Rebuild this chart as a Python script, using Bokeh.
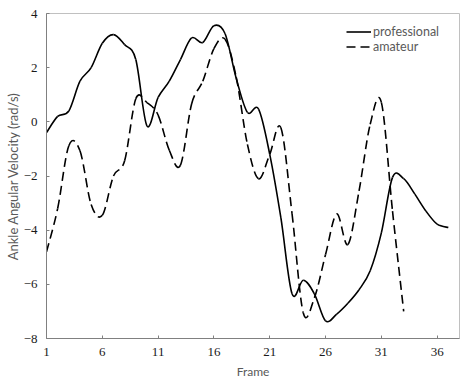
from bokeh.plotting import figure
from bokeh.models import FixedTicker, Legend, LegendItem
from bokeh.embed import file_html
from bokeh.resources import INLINE

# ---- data ----
frames_pro = list(range(1, 38))
professional = [-0.4, 0.2, 0.4, 1.5, 2.0, 2.9, 3.22, 2.85, 2.3, -0.15,
                0.9, 1.5, 2.3, 3.1, 2.93, 3.55, 3.25, 1.6, 0.35, 0.47,
                -1.2, -3.55, -6.35, -5.85, -6.35, -7.35, -7.1, -6.7, -6.2, -5.5,
                -4.1, -2.05, -2.1, -2.67, -3.3, -3.78, -3.9]
frames_am = list(range(1, 34))
amateur = [-4.8, -3.2, -0.88, -1.07, -3.05, -3.45, -2.0, -1.44, 0.85, 0.71,
           0.25, -1.05, -1.6, 0.66, 1.5, 2.7, 3.05, 1.64, -0.83, -2.1,
           -1.2, -0.22, -3.4, -7.05, -6.5, -4.9, -3.4, -4.53, -2.55, -0.09,
           0.72, -3.3, -7.0]
x_ticks = [1, 6, 11, 16, 21, 26, 31, 36]
y_ticks = [-8, -6, -4, -2, 0, 2, 4]


def smooth(xs, ys, t=1/6):
    """Bezier segments (Catmull-Rom style control points) through the points."""
    n = len(xs)
    d = dict(x0=[], y0=[], x1=[], y1=[], cx0=[], cy0=[], cx1=[], cy1=[])
    for i in range(n - 1):
        a = max(i - 1, 0)
        b = min(i + 2, n - 1)
        d["x0"].append(xs[i]); d["y0"].append(ys[i])
        d["x1"].append(xs[i + 1]); d["y1"].append(ys[i + 1])
        d["cx0"].append(xs[i] + (xs[i + 1] - xs[a]) * t)
        d["cy0"].append(ys[i] + (ys[i + 1] - ys[a]) * t)
        d["cx1"].append(xs[i + 1] - (xs[b] - xs[i]) * t)
        d["cy1"].append(ys[i + 1] - (ys[b] - ys[i]) * t)
    return d


p = figure(frame_width=413, frame_height=325, x_range=(1, 38), y_range=(-8, 4),
           output_backend="svg", toolbar_location=None,
           min_border_left=46, min_border_right=15, min_border_top=13,
           min_border_bottom=43)
p.grid.visible = False
p.outline_line_color = "#c0c0c0"
p.outline_line_width = 1
p.background_fill_color = "white"
p.border_fill_color = "white"

r_pro = p.bezier(source=smooth(frames_pro, professional), x0="x0", y0="y0",
                 x1="x1", y1="y1", cx0="cx0", cy0="cy0", cx1="cx1", cy1="cy1",
                 line_color="black", line_width=1.6)
r_am = p.bezier(source=smooth(frames_am, amateur), x0="x0", y0="y0",
                x1="x1", y1="y1", cx0="cx0", cy0="cy0", cx1="cx1", cy1="cy1",
                line_color="black", line_width=1.6, line_dash="9 5")

p.xaxis.ticker = FixedTicker(ticks=x_ticks)
p.yaxis.ticker = FixedTicker(ticks=y_ticks)
for ax in (p.xaxis[0], p.yaxis[0]):
    ax.axis_line_color = "#808080"
    ax.axis_line_width = 1
    ax.major_tick_line_color = "#808080"
    ax.major_tick_in = 3
    ax.major_tick_out = 0
    ax.minor_tick_line_color = None
    ax.major_label_text_font = "Liberation Serif"
    ax.major_label_text_font_size = "13px"
    ax.major_label_text_color = "#1a1a1a"
    ax.axis_label_text_font = "Lato"
    ax.axis_label_text_font_style = "normal"
    ax.axis_label_text_color = "#595959"

p.xaxis.axis_label = "Frame"
p.xaxis.axis_label_text_font_size = "12px"
p.xaxis.major_label_standoff = 9
p.xaxis.axis_label_standoff = 5
p.yaxis.axis_label = "Ankle Angular Velocity (rad/s)"
p.yaxis.axis_label_text_font_size = "13px"
p.yaxis.major_label_standoff = 9
p.yaxis.axis_label_standoff = 0

legend = Legend(items=[LegendItem(label="professional", renderers=[r_pro]),
                       LegendItem(label="amateur", renderers=[r_am])],
                location=(300, 284), padding=0, spacing=0, margin=0,
                glyph_width=25, glyph_height=15, label_height=15,
                label_standoff=2,
                label_text_font="Lato", label_text_font_size="12.5px",
                label_text_color="#595959",
                border_line_alpha=0, background_fill_alpha=0)
p.add_layout(legend)

open("out.html", "w").write(file_html(p, INLINE))
